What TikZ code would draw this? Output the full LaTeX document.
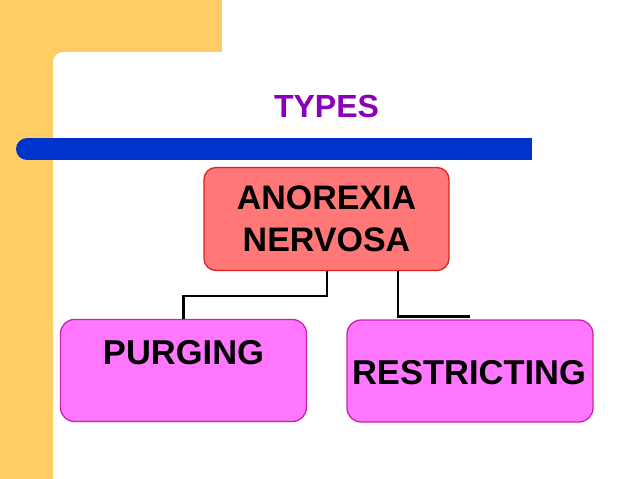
\documentclass[tikz,border=0pt]{standalone}
\usepackage{fontspec}
\setmainfont{Liberation Sans}
\usetikzlibrary{calc}
\definecolor{yellowbg}{HTML}{FFCC66}
\definecolor{barblue}{HTML}{0033CC}
\definecolor{salmon}{HTML}{FF7777}
\definecolor{salmonedge}{HTML}{DD2222}
\definecolor{pinkfill}{HTML}{FF77FF}
\definecolor{pinkedge}{HTML}{CC22AA}
\definecolor{typespurple}{HTML}{8B00BB}
\tikzset{
  anobox/.style={draw=salmonedge, fill=salmon, line width=1.3pt, rounded corners=12pt,
    minimum width=245pt, minimum height=103pt, inner sep=0pt, align=center,
    font=\bfseries\fontsize{34}{42}\selectfont},
  subbox/.style={draw=pinkedge, fill=pinkfill, line width=1.3pt, rounded corners=14pt,
    minimum width=246pt, minimum height=102pt, inner sep=0pt},
  label/.style={inner sep=0pt, font=\bfseries\fontsize{34.5}{40}\selectfont},
  conn/.style={line width=2.5pt, black}
}
\begin{document}
\begin{tikzpicture}[x=1pt,y=-1pt]
\useasboundingbox (0,0) rectangle (638,479);
\fill[white] (0,0) rectangle (638,479);
% background frame
\fill[yellowbg] (0,0) rectangle (222,62);
\fill[yellowbg] (0,0) rectangle (63,479);
\fill[white, rounded corners=10pt] (53,52) rectangle (660,500);
% blue bar
\fill[barblue] (27,138) rectangle (532,160);
\fill[barblue] (27,149) circle[radius=11];
% title
\node[inner sep=0pt, text=typespurple, font=\bfseries\fontsize{32}{36}\selectfont] (types) at (326.5,106) {TYPES};
% boxes
\node[anobox] (ano) at (326.5,219) {ANOREXIA\\NERVOSA};
\node[subbox] (purg) at (183.5,370.5) {};
\node[label] (purgt) at (183.5,353) {PURGING};
\node[subbox] (rest) at (470,371) {};
\node[label] (restt) at (469,372.5) {RESTRICTING};
% connectors
\draw[conn] ($(ano.south)+(0.5,0)$) -- ++(0,25) -| (purg.north);
\coordinate (restend) at ($(rest.north)+(0,-3)$);
\draw[conn] ($(ano.south)+(71.5,0)$) |- (restend);
\end{tikzpicture}
\end{document}
